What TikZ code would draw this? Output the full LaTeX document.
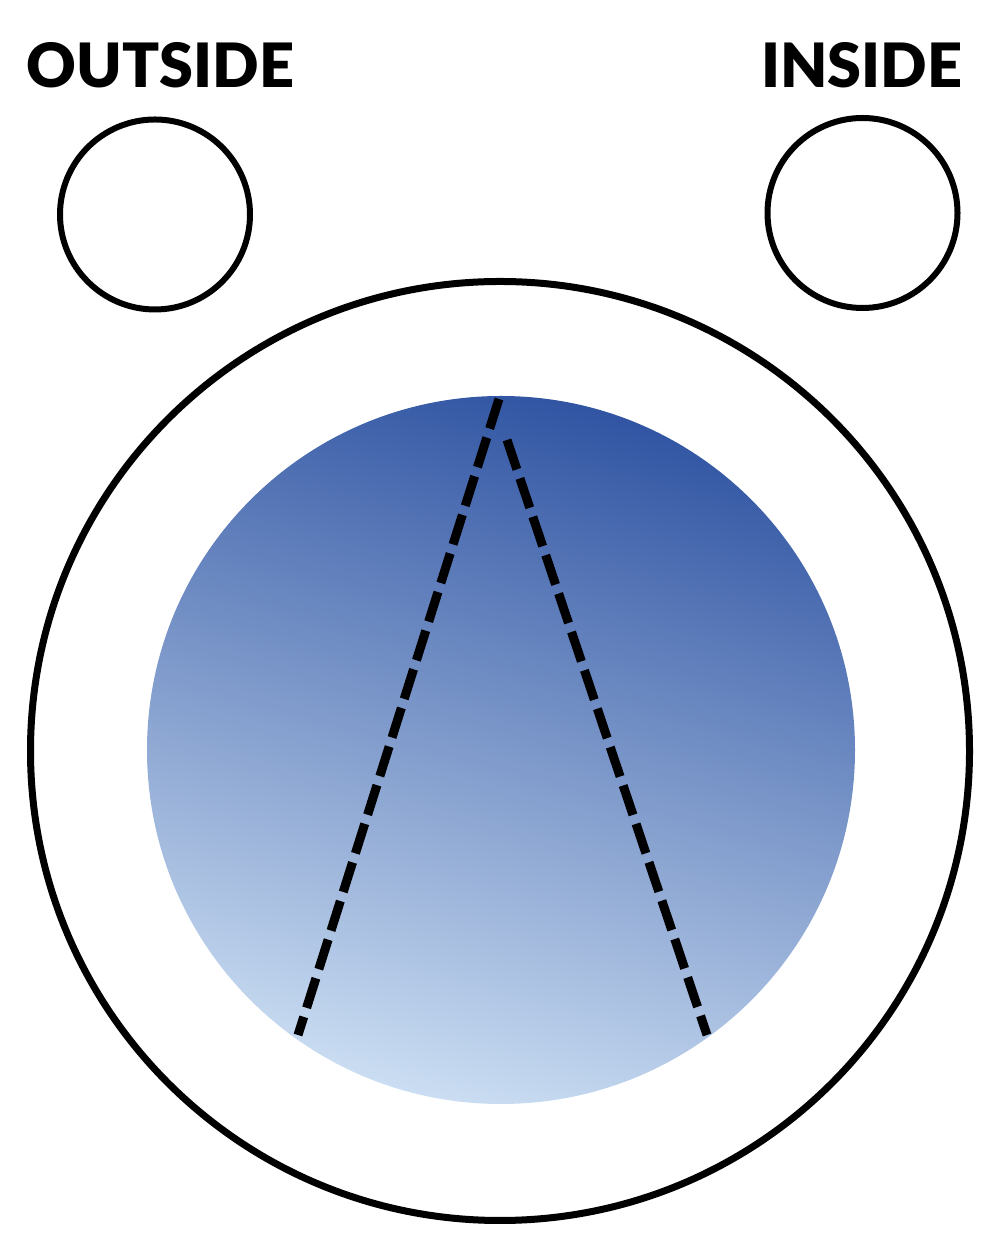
\documentclass[tikz,border=0pt]{standalone}
\usepackage{fontspec}
\setmainfont{Lato}[BoldFont={Lato Black}]
\definecolor{disktop}{HTML}{3155A3}
\definecolor{diskmid}{HTML}{7088BF}
\definecolor{diskbot}{HTML}{CADDF2}
\begin{document}
\begin{tikzpicture}
                    \useasboundingbox (0.000000,0.000000) rectangle (10.000000,12.500000);
                    {\fontsize{17.4pt}{20pt}\selectfont\bfseries

                    % Drawing circle outer
                    \draw [line width=0.070000cm] (5.000000,4.990000) circle (4.695000);%

                    % Drawing shaded disk inner
                    \shade [top color=disktop, middle color=diskmid, bottom color=diskbot, shading angle=-15] (5.010000,5.000000) circle (3.540000);%

                    % Drawing circle outside
                    \draw [line width=0.060000cm] (1.550000,10.355000) circle (0.950000);%

                    % Drawing circle inside
                    \draw [line width=0.060000cm] (8.625000,10.370000) circle (0.950000);%

                    % Marking points of dashed lines
                    \coordinate (apex) at (4.990000,8.510000);%
                    \coordinate (leftfoot) at (2.980000,2.150000);%
                    \coordinate (rightstart) at (5.070000,8.100000);%
                    \coordinate (rightfoot) at (7.070000,2.150000);%

                    % Drawing dashed line apex leftfoot
                    \draw [line width=0.090000cm, dash pattern=on 0.310000cm off 0.095000cm] (apex) -- (leftfoot);%

                    % Drawing dashed line rightstart rightfoot
                    \draw [line width=0.090000cm, dash pattern=on 0.310000cm off 0.095000cm] (rightstart) -- (rightfoot);%

                    % Marking label OUTSIDE
                    \node (outside) [anchor=base west, inner sep=0pt] at (0.260000,11.620000) {OUTSIDE};%

                    % Marking label INSIDE
                    \node (inside) [anchor=base east, inner sep=0pt] at (9.630000,11.620000) {INSIDE};%
                    }
                \end{tikzpicture}
\end{document}
